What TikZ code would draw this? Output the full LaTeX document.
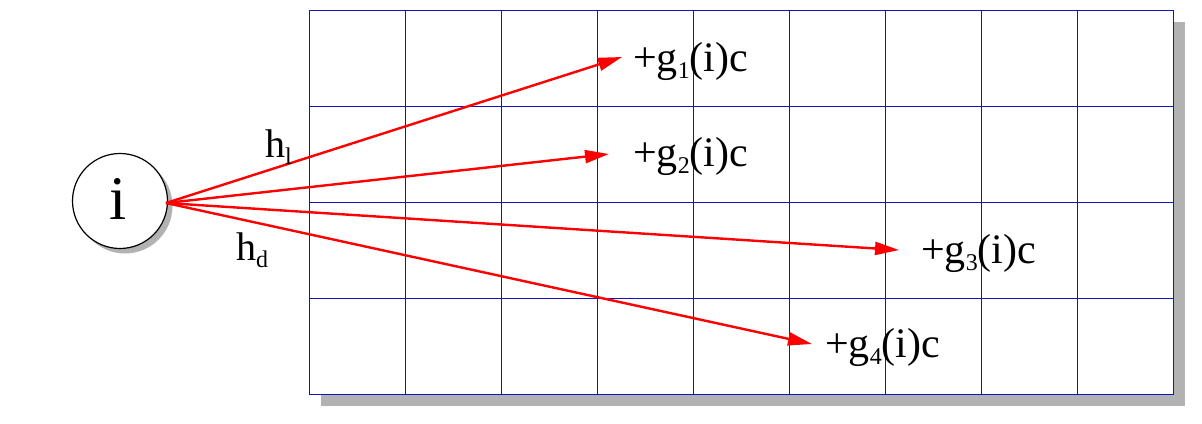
\documentclass[tikz,border=0pt]{standalone}
\usepackage{fontspec}
\setmainfont{Liberation Serif}
\usetikzlibrary{arrows.meta}
\definecolor{gridblue}{RGB}{20,20,190}
\definecolor{shadowgray}{RGB}{178,178,178}
\newcommand{\sbx}[1]{\raisebox{-7pt}{\fontsize{24}{24}\selectfont #1}}
\begin{document}
\begin{tikzpicture}[x=1pt,y=-1pt,
  lbl/.style={anchor=base west,inner sep=0pt,font=\fontsize{42}{42}\selectfont},
  hlbl/.style={anchor=base west,inner sep=0pt,font=\fontsize{40}{40}\selectfont},
  arr/.style={draw=red,line width=2.4pt,-{Triangle[length=24pt,width=13pt]}},
  gridline/.style={draw=gridblue,line width=0.9pt}]
\useasboundingbox (0,0) rectangle (1202,423);
% grid shadow
\fill[shadowgray] (321,22) rectangle (1185,406);
\fill[white] (309,10) rectangle (1173,394);
% grid
\foreach \x in {405,501,597,693,789,885,981,1077} \draw[gridline] (\x,10) -- (\x,394);
\foreach \y in {106,202,298} \draw[gridline] (309,\y) -- (1173,\y);
\draw[gridline] (309,10) rectangle (1173,394);
% circle
\fill[shadowgray] (125,206) circle (47.5);
\node[circle,draw=black,fill=white,line width=1.2pt,minimum size=95pt,inner sep=0pt] (c) at (120,201) {};
\node[anchor=base,inner sep=0pt,font=\fontsize{62}{62}\selectfont] (ci) at (118,219) {i};
% arrow targets
\coordinate (t1) at (622,57);
\coordinate (t2) at (609,154);
\coordinate (t3) at (899,250);
\coordinate (t4) at (812,344);
\coordinate (s) at (166,203);
\draw[arr] (s) -- (t1);
\draw[arr] (s) -- (t2);
\draw[arr] (s) -- (t3);
\draw[arr] (s) -- (t4);
% labels
\node[lbl] (g1) at (633,71) {+g\sbx{1}(i)c};
\node[lbl] (g2) at (633,166) {+g\sbx{2}(i)c};
\node[lbl] (g3) at (921,263) {+g\sbx{3}(i)c};
\node[lbl] (g4) at (825,357) {+g\sbx{4}(i)c};
\node[hlbl] (h1) at (265,157) {h\sbx{l}};
\node[hlbl] (hd) at (236,260) {h\sbx{d}};
\end{tikzpicture}
\end{document}
